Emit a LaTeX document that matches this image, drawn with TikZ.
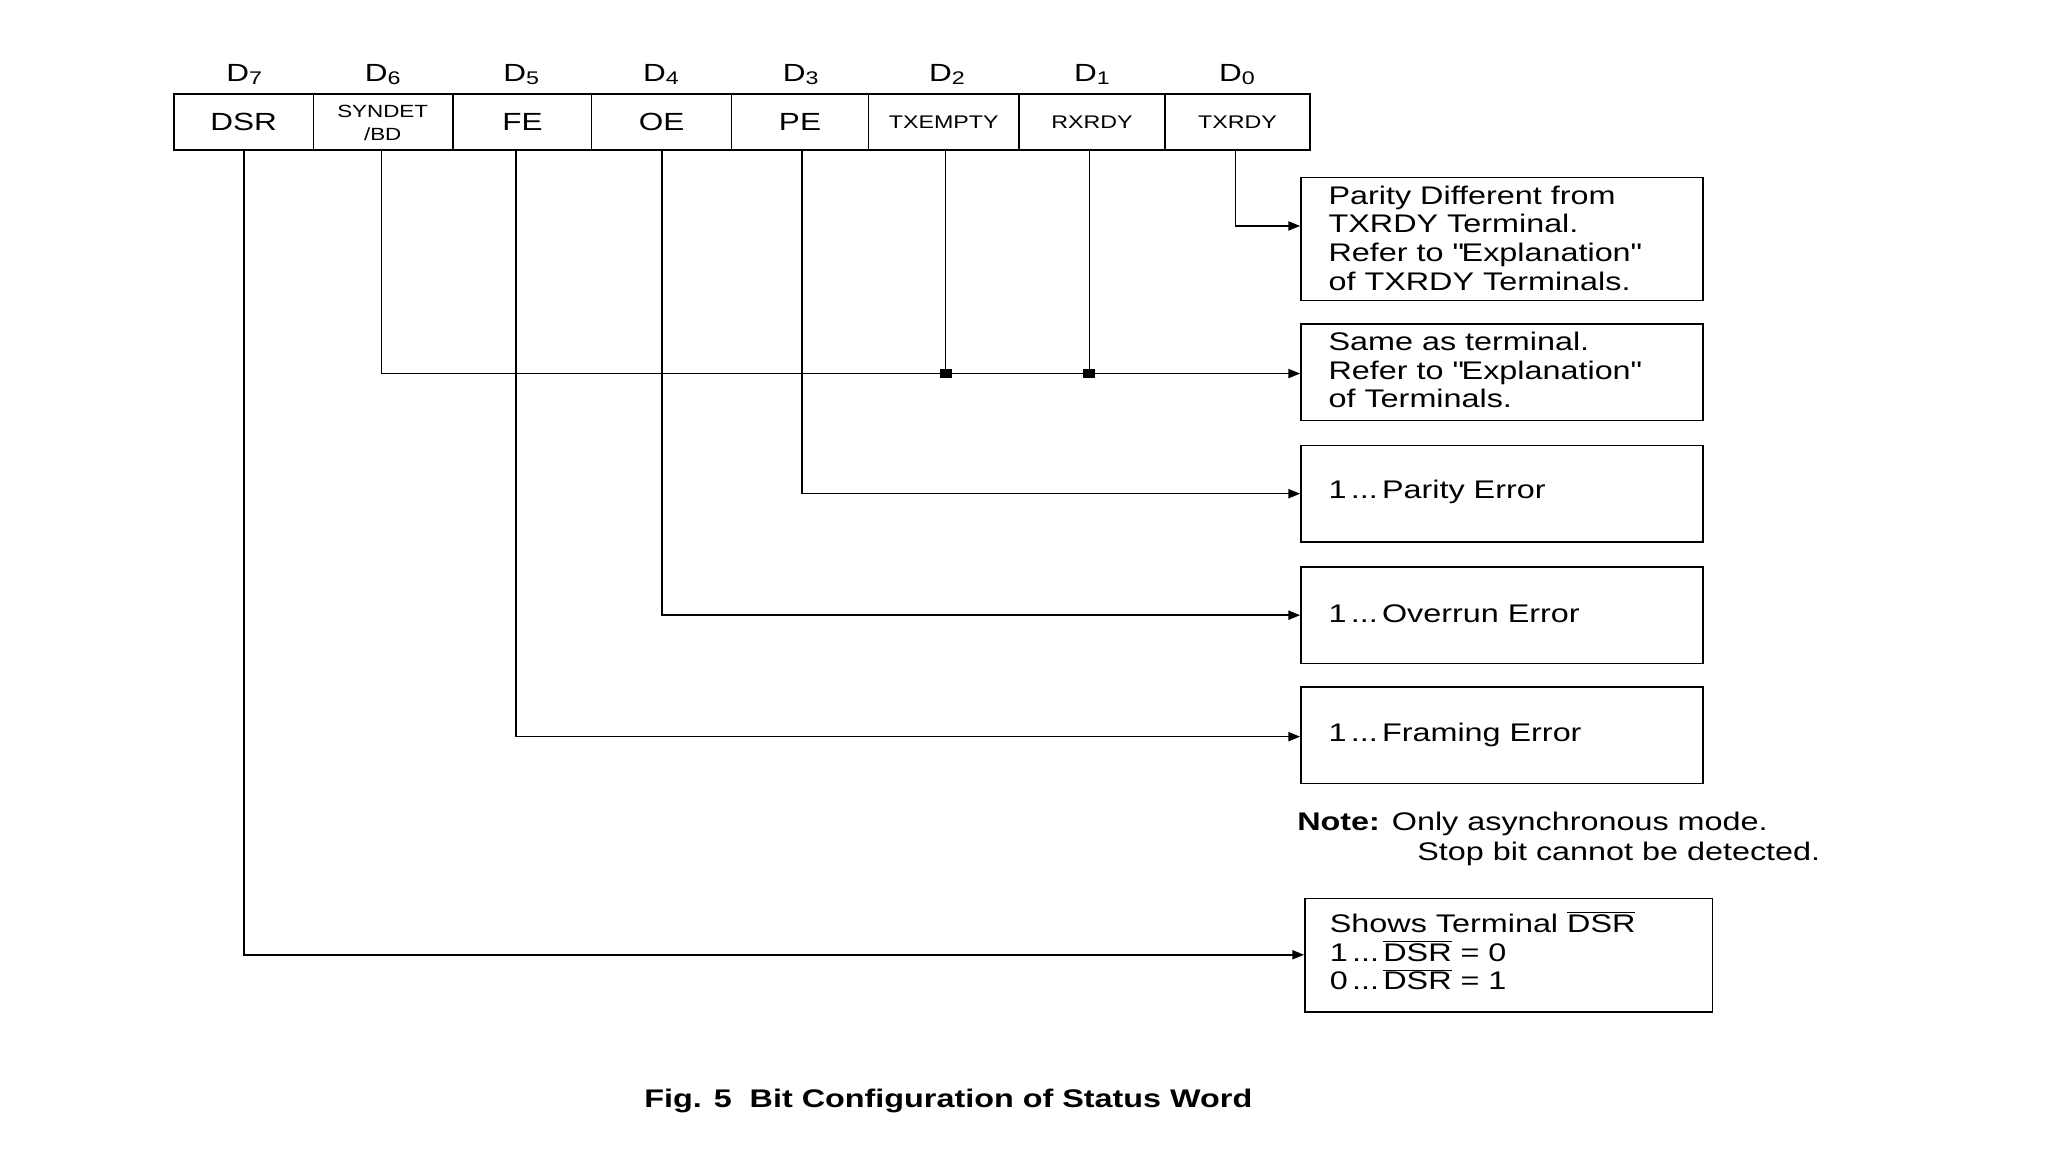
\documentclass[tikz,border=0pt]{standalone}
\usepackage{fontspec}
\setmainfont[FakeStretch=1.27]{Liberation Sans}
\usetikzlibrary{arrows.meta}
\newcommand{\dsub}[1]{D\raisebox{-2.5pt}{\fontsize{14}{14}\selectfont #1}}
\begin{document}
\begin{tikzpicture}[x=1pt,y=-1pt,
  reg/.style={draw,line width=1.2pt,minimum height=43pt,inner sep=0pt},
  lab/.style={font=\fontsize{19}{20}\selectfont,inner sep=0pt},
  desc/.style={draw,line width=1.2pt,inner sep=0pt},
  dtxt/.style={anchor=north west,align=left,inner sep=0pt,font=\fontsize{19.5}{22}\selectfont},
  con/.style={line width=1.2pt,-{Triangle[length=9pt,width=7pt]}},
  wire/.style={line width=1.2pt},
  dot/.style={rectangle,fill,inner sep=0pt,minimum width=9pt,minimum height=7pt}]
\useasboundingbox (0,0) rectangle (1568,882);
% register
\foreach \n/\a/\b/\t/\s in {r7/133/240/DSR/19, r6/240/347/{}/13, r5/347/453/FE/19, r4/453/560/OE/19, r3/560/665/PE/19, r2/665/780/TXEMPTY/14, r1/780/892/RXRDY/14, r0/892/1003/TXRDY/14}{
  \node[reg,minimum width={(\b-\a)*1pt},font=\fontsize{\s}{\s}\selectfont] (\n) at ({(\a+\b)/2},93.5) {\t};
}
\node[align=center,font=\fontsize{13.5}{18}\selectfont,inner sep=0pt] (syn) at (293,94) {SYNDET\\/BD};
\foreach \n/\x/\d in {d7/187/7,d6/293/6,d5/399/5,d4/506/4,d3/613/3,d2/725/2,d1/836/1,d0/947/0}{
  \node[lab] (\n) at (\x,57) {\dsub{\d}};
}
% description boxes
\node[desc,minimum width=308pt,minimum height=94pt] (b0) at (1150,183) {};
\node[dtxt] (t0) at (1017,142) {Parity Different from\\TXRDY Terminal.\\Refer to \textquotedbl Explanation\textquotedbl\\of TXRDY Terminals.};
\node[desc,minimum width=308pt,minimum height=74pt] (b1) at (1150,285) {};
\node[dtxt] (t1) at (1017,254) {Same as terminal.\\Refer to \textquotedbl Explanation\textquotedbl\\of Terminals.};
\node[desc,minimum width=308pt,minimum height=74pt] (b3) at (1150,378) {};
\node[dtxt,anchor=west] (t3) at (1017,377) {1\,...\,Parity Error};
\node[desc,minimum width=308pt,minimum height=74pt] (b4) at (1150,471) {};
\node[dtxt,anchor=west] (t4) at (1017,470) {1\,...\,Overrun Error};
\node[desc,minimum width=308pt,minimum height=74pt] (b5) at (1150,563) {};
\node[dtxt,anchor=west] (t5) at (1017,563) {1\,...\,Framing Error};
\node[desc,minimum width=312pt,minimum height=87pt] (b7) at (1155,731.5) {};
\node[dtxt] (t7) at (1018,698) {Shows Terminal $\overline{\mbox{DSR}}$\\1\,...\,$\overline{\mbox{DSR}}$ = 0\\0\,...\,$\overline{\mbox{DSR}}$ = 1};
% note
\node[anchor=west,inner sep=0pt,font=\fontsize{19.5}{22}\selectfont] (note) at (993,631) {\textbf{Note:} Only asynchronous mode.};
\node[anchor=west,inner sep=0pt,font=\fontsize{19.5}{22}\selectfont] (note2) at (1085,654) {Stop bit cannot be detected.};
% connectors
\coordinate (j0) at (946,173);
\draw[con] (r0.south -| j0) -- (j0) -- (b0.west |- j0);
\coordinate (j6) at (292,286);
\draw[con] (r6.south -| j6) -- (j6) -- (b1.west |- j6);
\coordinate (j2) at (724,286);
\coordinate (j1) at (834,286);
\draw[wire] (r2.south -| j2) -- (j2);
\draw[wire] (r1.south -| j1) -- (j1);
\node[dot] at (j2) {};
\node[dot] at (j1) {};
\coordinate (j3) at (614,378);
\draw[con] (r3.south -| j3) -- (j3) -- (b3.west |- j3);
\coordinate (j4) at (507,471);
\draw[con] (r4.south -| j4) -- (j4) -- (b4.west |- j4);
\coordinate (j5) at (395,564);
\draw[con] (r5.south -| j5) -- (j5) -- (b5.west |- j5);
\coordinate (j7) at (187,731);
\draw[con] (r7.south -| j7) -- (j7) -- (b7.west |- j7);
% caption
\node[font=\bfseries\fontsize{19.5}{22}\selectfont] (cap) at (726,843) {Fig. 5\ \ Bit Configuration of Status Word};
\end{tikzpicture}
\end{document}
